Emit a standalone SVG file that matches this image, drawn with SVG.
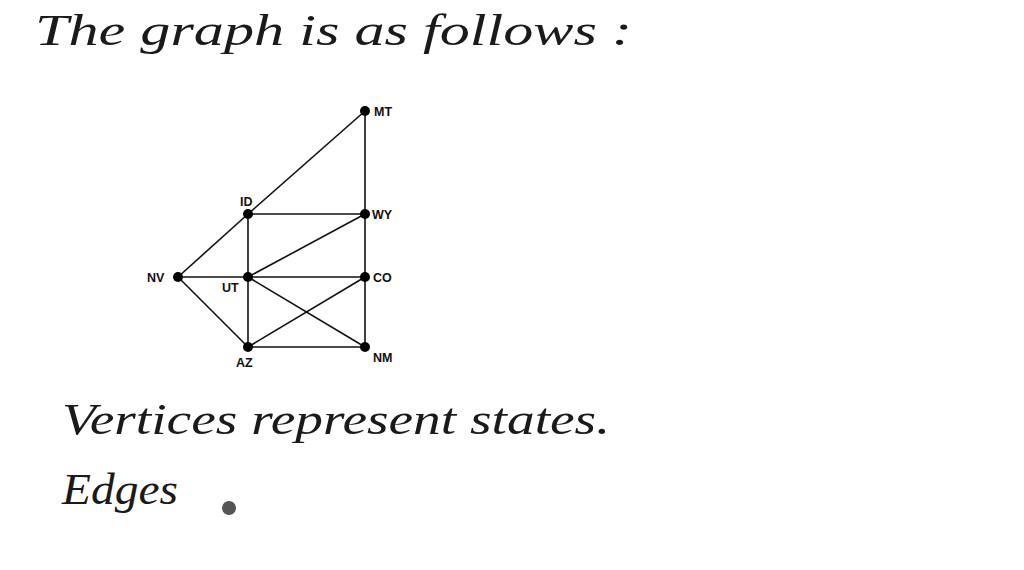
<svg xmlns="http://www.w3.org/2000/svg" width="1024" height="570" viewBox="0 0 1024 570">
<style>
.hand{font-family:"Liberation Serif",serif;font-style:italic;font-size:44px;fill:#1a1a1a}
.edge{stroke:#111;stroke-width:1.6;fill:none}
.node{fill:#000}
.lbl{font-family:"Liberation Sans",Arial,sans-serif;font-weight:bold;font-size:12.5px;fill:#111}
</style>
<rect width="1024" height="570" fill="#fff"/>
<text class="hand" x="35" y="45" textLength="597" lengthAdjust="spacingAndGlyphs">The graph is as follows :</text>
<g id="edges">
<line class="edge" x1="178" y1="277" x2="248" y2="214"/>
<line class="edge" x1="248" y1="214" x2="365" y2="111"/>
<line class="edge" x1="365" y1="111" x2="365" y2="214"/>
<line class="edge" x1="365" y1="214" x2="365" y2="277"/>
<line class="edge" x1="365" y1="277" x2="365" y2="347"/>
<line class="edge" x1="248" y1="214" x2="365" y2="214"/>
<line class="edge" x1="248" y1="214" x2="248" y2="277"/>
<line class="edge" x1="248" y1="277" x2="248" y2="347"/>
<line class="edge" x1="248" y1="277" x2="365" y2="214"/>
<line class="edge" x1="178" y1="277" x2="248" y2="277"/>
<line class="edge" x1="248" y1="277" x2="365" y2="277"/>
<line class="edge" x1="248" y1="277" x2="365" y2="347"/>
<line class="edge" x1="178" y1="277" x2="248" y2="347"/>
<line class="edge" x1="248" y1="347" x2="365" y2="277"/>
<line class="edge" x1="248" y1="347" x2="365" y2="347"/>
</g>
<g id="MT"><circle class="node" cx="365" cy="111" r="5"/><text class="lbl" x="374" y="116">MT</text></g>
<g id="ID"><circle class="node" cx="248" cy="214" r="5"/><text class="lbl" x="240" y="206">ID</text></g>
<g id="WY"><circle class="node" cx="365" cy="214" r="5"/><text class="lbl" x="372" y="219">WY</text></g>
<g id="NV"><circle class="node" cx="178" cy="277" r="5"/><text class="lbl" x="147" y="282">NV</text></g>
<g id="UT"><circle class="node" cx="248" cy="277" r="5"/><text class="lbl" x="222" y="292">UT</text></g>
<g id="CO"><circle class="node" cx="365" cy="277" r="5"/><text class="lbl" x="373" y="282">CO</text></g>
<g id="AZ"><circle class="node" cx="248" cy="347" r="5"/><text class="lbl" x="236" y="367">AZ</text></g>
<g id="NM"><circle class="node" cx="365" cy="347" r="5"/><text class="lbl" x="373" y="362">NM</text></g>
<text class="hand" x="62" y="434" textLength="548" lengthAdjust="spacingAndGlyphs">Vertices represent states.</text>
<text class="hand" x="62" y="504" textLength="116" lengthAdjust="spacingAndGlyphs">Edges</text>
<circle cx="229" cy="508" r="7" fill="#555"/>
</svg>
